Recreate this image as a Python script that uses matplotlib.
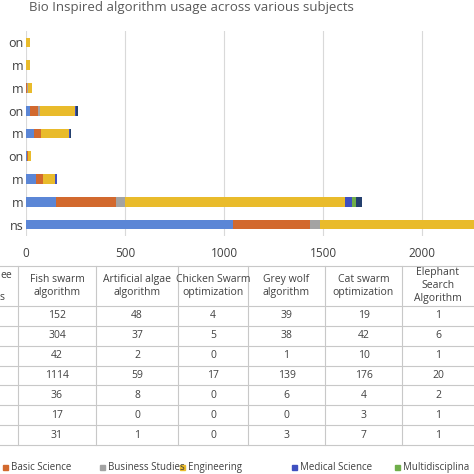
import matplotlib
matplotlib.use("Agg")
import matplotlib.pyplot as plt
import numpy as np

plt.rcParams['font.family'] = ['Open Sans', 'DejaVu Sans']

# categories bottom -> top (only label tails are visible in the reference)
cat_labels = ["ns", "m", "m", "on", "m", "on", "m", "m", "on"]
table_cols = ["Fish swarm\nalgorithm", "Artificial algae\nalgorithm", "Chicken Swarm\noptimization",
              "Grey wolf\nalgorithm", "Cat swarm\noptimization", "Elephant\nSearch\nAlgorithm"]
series_names = ["", "Basic Science", "Business Studies", "Engineering", "Medical Science", "Multidisciplina"]
series_colors = ["#5B86D6", "#D2692E", "#A3A3A3", "#E9BB2B", "#3F50C0", "#6FAE4A", "#24406E"]

# values per series, one per category (bottom -> top)
s0 = [1045, 152, 48, 4, 39, 19, 1, 0, 0]
s1 = [390, 304, 37, 5, 38, 42, 6, 2, 1]
s2 = [50, 42, 2, 0, 1, 10, 1, 0, 0]
s3 = [900, 1114, 59, 17, 139, 176, 20, 18, 20]
s4 = [20, 36, 8, 0, 6, 4, 2, 1, 1]
s5 = [10, 17, 0, 0, 0, 3, 1, 0, 0]
s6 = [20, 31, 1, 0, 3, 7, 1, 1, 0]
series = [s0, s1, s2, s3, s4, s5, s6]

W = H = 474
fig = plt.figure(figsize=(W / 100, H / 100), dpi=100)
ax = fig.add_axes([26 / W, 1 - 236 / H, (W - 26) / W, 205 / H])
y = np.arange(len(cat_labels))
left = np.zeros(len(cat_labels))
for vals, col in zip(series, series_colors):
    ax.barh(y, vals, left=left, height=0.42, color=col)
    left += np.array(vals)
ax.set_xlim(0, 2262)
ax.set_ylim(-0.5, len(cat_labels) - 0.5)
ax.set_yticks(y)
ax.set_yticklabels(cat_labels, fontsize=9, color="#404040")
ax.set_xticks([0, 500, 1000, 1500, 2000])
ax.tick_params(axis="x", labelsize=8.5, colors="#404040", length=0, pad=8)
ax.tick_params(axis="y", length=0, pad=2)
ax.grid(axis="x", color="#D9D9D9", linewidth=0.8)
ax.set_axisbelow(True)
for sp in ax.spines.values():
    sp.set_visible(False)
fig.text(29 / W, 1 - 8 / H, "Bio Inspired algorithm usage across various subjects",
         fontsize=9.5, color="#595959", va="center")

# table and legend in pixel coordinates
ov = fig.add_axes([0, 0, 1, 1])
ov.set_xlim(0, W)
ov.set_ylim(H, 0)
ov.axis("off")
xs = [18, 96, 178, 248, 325, 402, 474]
top, hdr, bot = 266, 306, 445
nrows = 7
rowh = (bot - hdr) / nrows
lc = "#C8C8C8"
ov.plot([0, W], [top, top], color=lc, lw=0.8)
ov.plot([0, W], [hdr, hdr], color=lc, lw=0.8)
for i in range(1, nrows + 1):
    yy = hdr + i * rowh
    ov.plot([0, W], [yy, yy], color=lc, lw=0.8)
for xx in xs[:-1]:
    ov.plot([xx, xx], [top, bot], color=lc, lw=0.8)
ov.text(0, 275, "ee", fontsize=7.5, color="#404040", va="center", ha="left")
ov.text(0, 297, "s", fontsize=7.5, color="#404040", va="center", ha="left")
for j, name in enumerate(table_cols):
    cx = (xs[j] + xs[j + 1]) / 2
    ov.text(cx, (top + hdr) / 2, name, fontsize=7.5, color="#404040", ha="center", va="center",
            linespacing=1.25)
    for i in range(nrows):
        ov.text(cx, hdr + (i + 0.5) * rowh, str(series[i][j + 1]), fontsize=7.5,
                color="#404040", ha="center", va="center")

leg_x = [-12, 3, 100, 180, 292, 395]
for k, lx in enumerate(leg_x):
    ov.add_patch(plt.Rectangle((lx, 465), 5, 5, color=series_colors[k]))
    ov.text(lx + 8, 467.5, series_names[k], fontsize=7, color="#404040", va="center")

fig.savefig("out.png", dpi=100)
